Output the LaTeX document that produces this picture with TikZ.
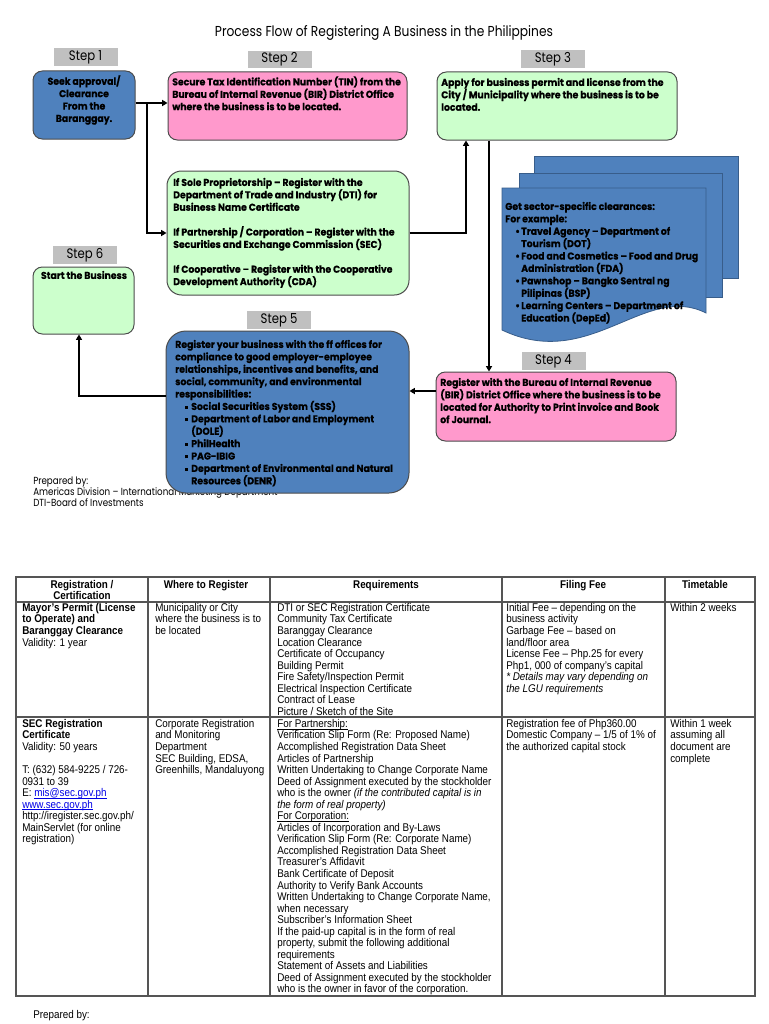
\documentclass[tikz,border=0pt]{standalone}
\usepackage{fontspec}
\setmainfont{Liberation Sans}
\newfontfamily\gothic{Poppins}[FakeStretch=0.85]
\newfontfamily\boxf{Poppins}[FakeStretch=0.93, BoldFeatures={FakeBold=0.4}]
\newfontfamily\tabf{Liberation Sans}[FakeStretch=0.88]
\usetikzlibrary{arrows.meta,fit}
\definecolor{boxblue}{RGB}{79,129,189}
\definecolor{boxpink}{RGB}{255,153,204}
\definecolor{boxgreen}{RGB}{204,255,204}
\definecolor{stepgray}{RGB}{192,192,192}
\definecolor{docedge}{RGB}{56,93,138}
\definecolor{linkblue}{RGB}{0,0,230}
\definecolor{gridgray}{RGB}{85,85,85}
\newsavebox{\myulbox}
\newcommand{\ulin}[1]{\begingroup\sbox{\myulbox}{#1}\rlap{\rule[-1.3pt]{\wd\myulbox}{0.45pt}}\usebox{\myulbox}\endgroup}
\newcommand{\sqb}{\makebox[4.5pt][l]{\raisebox{0.9pt}{\rule{2.4pt}{2.4pt}}}}
\newcommand{\rdb}{\makebox[4.5pt][l]{\textbullet}}
\newcommand{\nolsk}{\setlength{\lineskiplimit}{-20pt}}
\tikzset{
  steplabel/.style={fill=stepgray, inner sep=0pt, minimum width=48pt, minimum height=13pt, font=\gothic\fontsize{10.3}{11}\selectfont},
  procbox/.style={draw=black!70, line width=0.75pt, rounded corners=7pt, inner sep=0pt},
  boxtext/.style={anchor=north west, inner sep=0pt, align=left, font=\boxf\bfseries\fontsize{7.5}{9.3}\selectfont\nolsk},
  conn/.style={line width=1.3pt, -{Triangle[length=4pt,width=4.5pt]}},
  tabtext/.style={anchor=north west, inner sep=0pt, align=left, font=\tabf\fontsize{8.4}{8.66}\selectfont\nolsk},
  tabhead/.style={anchor=north, inner sep=0pt, align=center, font=\tabf\bfseries\fontsize{8.4}{8.66}\selectfont\nolsk},
  docpage/.style={fill=boxblue, draw=docedge, line width=0.6pt},
  gridline/.style={draw=gridgray, line width=0.8pt},
  plaintext/.style={anchor=north west, inner sep=0pt, align=left, font=\gothic\fontsize{7.7}{8.3}\selectfont\nolsk},
}
\begin{document}
\begin{tikzpicture}[x=0.75pt,y=-0.75pt]
\useasboundingbox (0,0) rectangle (768,1024);
\fill[white] (0,0) rectangle (768,1024);

% title
\node[anchor=base, inner sep=0pt, font=\gothic\fontsize{10.8}{12}\selectfont] (title) at (384,37) {Process Flow of Registering A Business in the Philippines};

% prepared by (under step 5 box)
\node[plaintext] (prep) at (33,476) {\strut Prepared by:\\Americas Division – International Marketing Department\\DTI-Board of Investments};

% step labels
\node[steplabel] (s1) at (85.5,57) {Step 1};
\node[steplabel] (s2) at (279.5,59.5) {Step 2};
\node[steplabel] (s3) at (553,59) {Step 3};
\node[steplabel] (s6) at (85,255) {Step 6};
\node[steplabel] (s5) at (279,320) {Step 5};
\node[steplabel] (s4) at (553.5,361) {Step 4};

% document stack
\path[docpage] (534,156) -- (738,156) -- (738,278) -- (534,278) -- cycle;
\path[docpage] (519,173) -- (722,173) -- (722,297) -- (519,297) -- cycle;
\path[docpage] (502,188) -- (706,188) -- (706,313) .. controls (645,282) and (590,372) .. (502,330) -- cycle;
\node[boxtext] (docs) at (505,201) {\strut Get sector-specific clearances:\\For example:\\
\hspace*{7.5pt}\rdb Travel Agency – Department of\\\hspace*{12pt}Tourism (DOT)\\
\hspace*{7.5pt}\rdb Food and Cosmetics – Food and Drug\\\hspace*{12pt}Administration (FDA)\\
\hspace*{7.5pt}\rdb Pawnshop – Bangko Sentral ng\\\hspace*{12pt}Pilipinas (BSP)\\
\hspace*{7.5pt}\rdb Learning Centers – Department of\\\hspace*{12pt}Education (DepEd)};

% boxes
\node[procbox, fill=boxblue, fit={(33,71)(135,139)}] (b1) {};
\node[procbox, fill=boxpink, fit={(168,72)(407,140)}] (b2) {};
\node[procbox, fill=boxgreen, fit={(437,72)(677,140)}] (b3) {};
\node[procbox, fill=boxgreen, rounded corners=11pt, fit={(167,171)(409,295)}] (mid) {};
\node[procbox, fill=boxgreen, fit={(33,267)(134,334)}] (b6) {};
\node[procbox, fill=boxblue, rounded corners=15pt, fit={(166,331)(409,493)}] (b5) {};
\node[procbox, fill=boxpink, fit={(436,372)(676,441)}] (b4) {};

% connectors
\coordinate (j1) at (147,103);
\draw[conn] (b1.east |- j1) -- (b2.west |- j1);
\draw[conn] (j1) |- (mid.west);
\draw[conn] (mid.east) -| (b3.south -| 466,0);
\draw[conn] (b3.south -| 489,0) -- (b4.north -| 489,0);
\draw[conn] (b4.west |- 0,391) -- (b5.east |- 0,391);
\draw[conn] (b5.west |- 0,396) -| (b6.south -| 79,0);

% box texts
\node[boxtext, anchor=north, align=center] (t1) at (84,75) {\strut Seek approval/\\Clearance\\From the\\Baranggay.};
\node[boxtext] (t2) at (172,76) {\strut Secure Tax Identification Number (TIN) from the\\Bureau of Internal Revenue (BIR) District Office\\where the business is to be located.};
\node[boxtext] (t3) at (441,77) {\strut Apply for business permit and license from the\\City / Municipality where the business is to be\\located.};
\node[boxtext] (tm) at (173,177) {\strut If Sole Proprietorship – Register with the\\Department of Trade and Industry (DTI) for\\Business Name Certificate\\[9.3pt]If Partnership / Corporation – Register with the\\Securities and Exchange Commission (SEC)\\[9.3pt]If Cooperative – Register with the Cooperative\\Development Authority (CDA)};
\node[boxtext, anchor=north, align=center] (t6) at (84,270) {\strut Start the Business};
\node[boxtext] (t5) at (175,339) {\strut Register your business with the ff offices for\\compliance to good employer-employee\\relationships, incentives and benefits, and\\social, community, and environmental\\responsibilities:\\
\hspace*{7.5pt}\sqb Social Securities System (SSS)\\
\hspace*{7.5pt}\sqb Department of Labor and Employment\\\hspace*{12pt}(DOLE)\\
\hspace*{7.5pt}\sqb PhilHealth\\
\hspace*{7.5pt}\sqb PAG-IBIG\\
\hspace*{7.5pt}\sqb Department of Environmental and Natural\\\hspace*{12pt}Resources (DENR)};
\node[boxtext] (t4) at (440,377) {\strut Register with the Bureau of Internal Revenue\\(BIR) District Office where the business is to be\\located for Authority to Print invoice and Book\\of Journal.};

% table grid
\draw[gridline, line width=1.1pt] (16,577) rectangle (755,996);
\foreach \cx in {148,270,502,665} \draw[gridline] (\cx,577) -- (\cx,996);
\draw[gridline, line width=1.3pt] (16,602) -- (755,602);
\draw[gridline] (16,717) -- (755,717);

% table header
\node[tabhead] (h1) at (82,580) {\strut Registration /\\Certification};
\node[tabhead] (h2) at (206,580) {\strut Where to Register};
\node[tabhead] (h3) at (386,580) {\strut Requirements};
\node[tabhead] (h4) at (583,580) {\strut Filing Fee};
\node[tabhead] (h5) at (705,580) {\strut Timetable};

% row 1
\node[tabtext] (r1c1) at (22,603) {\strut\textbf{Mayor’s Permit (License}\\\textbf{to Operate) and}\\\textbf{Baranggay Clearance}\\Validity: 1 year};
\node[tabtext] (r1c2) at (155,603) {\strut Municipality or City\\where the business is to\\be located};
\node[tabtext] (r1c3) at (277,603) {\strut DTI or SEC Registration Certificate\\Community Tax Certificate\\Baranggay Clearance\\Location Clearance\\Certificate of Occupancy\\Building Permit\\Fire Safety/Inspection Permit\\Electrical Inspection Certificate\\Contract of Lease\\Picture / Sketch of the Site};
\node[tabtext] (r1c4) at (506,603) {\strut Initial Fee – depending on the\\business activity\\Garbage Fee – based on\\land/floor area\\License Fee – Php.25 for every\\Php1, 000 of company’s capital\\\textit{* Details may vary depending on}\\\textit{the LGU requirements}};
\node[tabtext] (r1c5) at (670,603) {\strut Within 2 weeks};

% row 2
\node[tabtext] (r2c1) at (22,719) {\strut\textbf{SEC Registration}\\\textbf{Certificate}\\Validity: 50 years\\[8.66pt]T: (632) 584-9225 / 726-\\0931 to 39\\E: \textcolor{linkblue}{\ulin{mis@sec.gov.ph}}\\\textcolor{linkblue}{\ulin{www.sec.gov.ph}}\\http://iregister.sec.gov.ph/\\MainServlet (for online\\registration)};
\node[tabtext] (r2c2) at (155,719) {\strut Corporate Registration\\and Monitoring\\Department\\SEC Building, EDSA,\\Greenhills, Mandaluyong};
\node[tabtext] (r2c3) at (277,719) {\strut\ulin{For Partnership:}\\Verification Slip Form (Re: Proposed Name)\\Accomplished Registration Data Sheet\\Articles of Partnership\\Written Undertaking to Change Corporate Name\\Deed of Assignment executed by the stockholder\\who is the owner \textit{(if the contributed capital is in}\\\textit{the form of real property)}\\\ulin{For Corporation:}\\Articles of Incorporation and By-Laws\\Verification Slip Form (Re: Corporate Name)\\Accomplished Registration Data Sheet\\Treasurer’s Affidavit\\Bank Certificate of Deposit\\Authority to Verify Bank Accounts\\Written Undertaking to Change Corporate Name,\\when necessary\\Subscriber’s Information Sheet\\If the paid-up capital is in the form of real\\property, submit the following additional\\requirements\\Statement of Assets and Liabilities\\Deed of Assignment executed by the stockholder\\who is the owner in favor of the corporation.};
\node[tabtext] (r2c4) at (506,719) {\strut Registration fee of Php360.00\\Domestic Company – 1/5 of 1\% of\\the authorized capital stock};
\node[tabtext] (r2c5) at (670,719) {\strut Within 1 week\\assuming all\\document are\\complete};

\node[tabtext] (prep2) at (33,1010) {\strut Prepared by:};
\end{tikzpicture}
\end{document}
